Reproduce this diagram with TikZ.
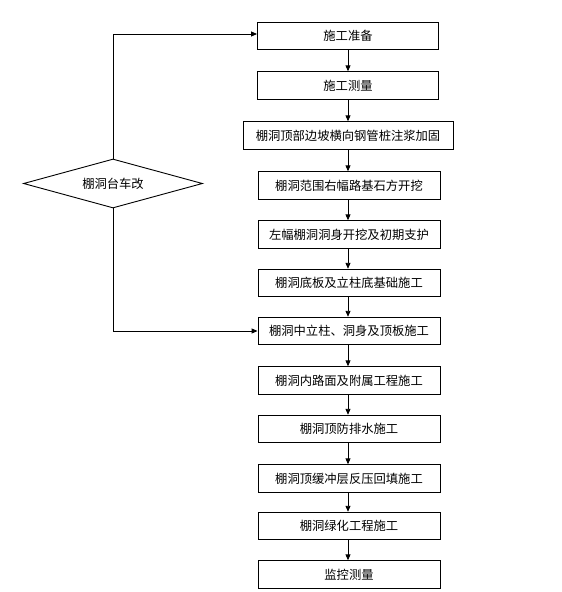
\documentclass[tikz,border=0pt]{standalone}
\usepackage{fontspec}
\setmainfont{Noto Sans CJK SC}
\usetikzlibrary{arrows.meta,shapes.geometric}
\begin{document}
\begin{tikzpicture}[x=1pt,y=-1pt,
  stepbox/.style={draw=black,line width=0.9pt,minimum height=27.5pt,inner sep=0pt,font=\fontsize{12.3}{14}\selectfont},
  decision/.style={draw=black,line width=0.9pt,diamond,aspect=3.65,minimum width=179pt,minimum height=49pt,inner sep=0pt,font=\fontsize{12.3}{14}\selectfont},
  conn/.style={line width=0.9pt,-{Triangle[length=6pt,width=5pt]}},
  plain/.style={line width=0.9pt}]
\useasboundingbox (0,0) rectangle (562,592);
\node[stepbox,minimum width=181pt] (b1) at (348,36) {施工准备};
\node[stepbox,minimum width=181pt] (b2) at (348,85.5) {施工测量};
\node[stepbox,minimum width=210pt] (b3) at (348,135.5) {棚洞顶部边坡横向钢管桩注浆加固};
\node[stepbox,minimum width=182pt] (b4) at (349,185.5) {棚洞范围右幅路基石方开挖};
\node[stepbox,minimum width=182pt] (b5) at (349,234.5) {左幅棚洞洞身开挖及初期支护};
\node[stepbox,minimum width=182pt] (b6) at (349,283) {棚洞底板及立柱底基础施工};
\node[stepbox,minimum width=182pt] (b7) at (349,331) {棚洞中立柱、洞身及顶板施工};
\node[stepbox,minimum width=182pt] (b8) at (349,380.5) {棚洞内路面及附属工程施工};
\node[stepbox,minimum width=182pt] (b9) at (349,429) {棚洞顶防排水施工};
\node[stepbox,minimum width=182pt] (b10) at (349,478.5) {棚洞顶缓冲层反压回填施工};
\node[stepbox,minimum width=182pt] (b11) at (349,526) {棚洞绿化工程施工};
\node[stepbox,minimum width=182pt] (b12) at (349,574.5) {监控测量};
\node[decision] (d) at (113,183.5) {棚洞台车改};
\coordinate (col) at (348,0);
\coordinate (up) at (113,34);
\coordinate (dn) at (113,331);
\foreach \a/\b in {b1/b2,b2/b3,b3/b4,b4/b5,b5/b6,b6/b7,b7/b8,b8/b9,b9/b10,b10/b11,b11/b12}
  \draw[conn] (col |- \a.south) -- (col |- \b.north);
\draw[plain] (d.north) -- (up);
\draw[conn] (up) -- (up -| b1.west);
\draw[plain] (d.south) -- (dn);
\draw[conn] (dn) -- (b7.west);
\end{tikzpicture}
\end{document}
